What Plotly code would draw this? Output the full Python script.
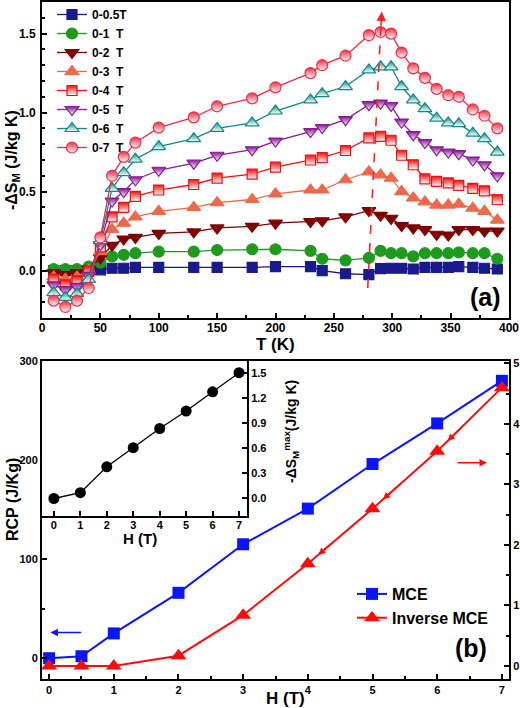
import plotly.graph_objects as go

# ---------------- data : panel (a) ----------------
T = [10, 20, 30, 40, 50, 60, 70, 80, 100, 130, 150, 180, 200, 230, 240, 260,
     280, 290, 299, 308, 318, 328, 338, 348, 357, 369, 379, 390]
dS_05 = [0.0, 0.0, 0.0, 0.005, 0.005, 0.015, 0.015, 0.02, 0.02, 0.02, 0.02, 0.02, 0.025, 0.025, 0.0, -0.02,
         -0.025, 0.012, 0.015, 0.015, 0.01, 0.02, 0.02, 0.02, 0.025, 0.02, 0.015, 0.01]
dS_1 = [0.01, 0.01, 0.01, 0.025, 0.05, 0.09, 0.10, 0.11, 0.12, 0.12, 0.13, 0.135, 0.135, 0.125, 0.075, 0.065,
        0.08, 0.125, 0.11, 0.11, 0.09, 0.11, 0.11, 0.11, 0.115, 0.11, 0.11, 0.075]
dS_2 = [-0.015, -0.025, -0.015, 0.01, 0.08, 0.16, 0.20, 0.21, 0.235, 0.245, 0.27, 0.28, 0.30, 0.31, 0.315, 0.34,
        0.38, 0.35, 0.33, 0.285, 0.27, 0.26, 0.23, 0.225, 0.26, 0.26, 0.25, 0.25]
dS_3 = [-0.04, -0.055, -0.04, 0.0, 0.12, 0.26, 0.30, 0.34, 0.375, 0.40, 0.43, 0.45, 0.485, 0.51, 0.51, 0.575,
        0.625, 0.605, 0.585, 0.50, 0.46, 0.435, 0.415, 0.415, 0.42, 0.395, 0.375, 0.32]
dS_4 = [-0.055, -0.09, -0.065, -0.005, 0.15, 0.34, 0.40, 0.47, 0.51, 0.545, 0.585, 0.61, 0.655, 0.70, 0.715, 0.76,
        0.84, 0.85, 0.825, 0.73, 0.67, 0.58, 0.565, 0.555, 0.54, 0.52, 0.505, 0.45]
dS_5 = [-0.09, -0.12, -0.10, -0.03, 0.165, 0.44, 0.50, 0.575, 0.635, 0.68, 0.73, 0.765, 0.82, 0.88, 0.905, 0.955,
        1.05, 1.06, 1.045, 0.94, 0.86, 0.81, 0.765, 0.75, 0.74, 0.70, 0.67, 0.60]
dS_6 = [-0.14, -0.17, -0.145, -0.055, 0.19, 0.52, 0.62, 0.705, 0.785, 0.835, 0.90, 0.935, 1.01, 1.08, 1.12, 1.165,
        1.27, 1.29, 1.29, 1.165, 1.08, 1.025, 0.965, 0.935, 0.93, 0.87, 0.835, 0.75]
dS_7 = [-0.19, -0.23, -0.19, -0.11, 0.21, 0.60, 0.72, 0.81, 0.905, 0.97, 1.04, 1.09, 1.16, 1.25, 1.30, 1.36,
        1.49, 1.51, 1.50, 1.38, 1.28, 1.22, 1.15, 1.11, 1.10, 1.02, 0.98, 0.90]
series_names = ["0-0.5T", "0-1  T", "0-2  T", "0-3  T", "0-4  T", "0-5  T", "0-6  T", "0-7  T"]

# ---------------- data : panel (b) ----------------
H = [0, 0.5, 1, 2, 3, 4, 5, 6, 7]
RCP = [0, 2, 25, 66, 115, 151, 196, 237, 280]
inv_MCE = [0, 0, 0, 0.17, 0.84, 1.69, 2.6, 3.55, 4.6]
H_inset = [0, 1, 2, 3, 4, 5, 6, 7]
dSmax = [-0.01, 0.06, 0.37, 0.6, 0.83, 1.04, 1.27, 1.5]

W, HGT = 520, 708
FONT = "Arial, Liberation Sans, sans-serif"

def px_x(p):
    return p / W

def px_y(p):
    return 1 - p / HGT

fig = go.Figure()

styles = [
    ("#1a1a8c", "square", 10, False),
    ("#1e9a1e", "circle", 11, False),
    ("#800000", "triangle-down", 12, False),
    ("#ec6a4c", "triangle-up", 12, False),
    ("#f01010", "square", 10, True),
    ("#8a1a96", "triangle-down", 12, True),
    ("#0f8a82", "triangle-up", 12, True),
    ("#ee2c45", "circle", 11, True),
]
data_a = [dS_05, dS_1, dS_2, dS_3, dS_4, dS_5, dS_6, dS_7]
for name, ys, (col, sym, sz, half) in zip(series_names, data_a, styles):
    marker = dict(symbol=sym, size=sz, color=col, line=dict(color=col, width=1.2))
    if half:
        marker["gradient"] = dict(type="vertical", color="white")
    fig.add_trace(go.Scatter(x=T, y=ys, name=name, mode="lines+markers",
                             line=dict(color=col, width=1.3), marker=marker,
                             xaxis="x", yaxis="y", legend="legend"))

# panel (b)
fig.add_trace(go.Scatter(x=H, y=RCP, name="MCE", mode="lines+markers",
                         line=dict(color="#0a14ff", width=2),
                         marker=dict(symbol="square", size=12, color="#0a14ff"),
                         xaxis="x2", yaxis="y2", legend="legend2"))
fig.add_trace(go.Scatter(x=H, y=inv_MCE, name="Inverse MCE", mode="lines+markers",
                         line=dict(color="#ff0a0a", width=2),
                         marker=dict(symbol="triangle-up", size=14, color="#ff0a0a"),
                         xaxis="x2", yaxis="y3", legend="legend2"))
# inset
fig.add_trace(go.Scatter(x=H_inset, y=dSmax, mode="lines+markers", showlegend=False,
                         line=dict(color="black", width=1.3),
                         marker=dict(symbol="circle", size=11, color="black"),
                         xaxis="x3", yaxis="y4"))

tickfont = dict(family=FONT, size=12, color="black", weight="bold")
smallfont = dict(family=FONT, size=11, color="black", weight="bold")
axcommon = dict(showline=True, linecolor="black", linewidth=2, ticks="inside",
                tickcolor="black", tickwidth=1.5, ticklen=5, showgrid=False,
                zeroline=False, automargin=False)

fig.update_layout(
    width=W, height=HGT, margin=dict(l=0, r=0, t=0, b=0, autoexpand=False),
    paper_bgcolor="white", plot_bgcolor="white",
    font=dict(family=FONT, color="black"),
    xaxis=dict(domain=[px_x(42), px_x(509)], range=[0, 400], anchor="y", mirror=True,
               tickvals=[0, 50, 100, 150, 200, 250, 300, 350, 400], tickfont=tickfont,
               ticklabelstandoff=-2,
               minor=dict(dtick=25, ticks="inside", ticklen=3, tickcolor="black"),
               **axcommon),
    yaxis=dict(domain=[px_y(318), px_y(2)], range=[-0.3, 1.7], anchor="x", mirror=True,
               tickvals=[0, 0.5, 1.0, 1.5], ticktext=["0.0", "0.5", "1.0", "1.5"],
               tickfont=tickfont, ticklabelstandoff=2,
               minor=dict(dtick=0.1, ticks="inside", ticklen=3, tickcolor="black"),
               **axcommon),
    xaxis2=dict(domain=[px_x(42), px_x(509)], range=[-0.11, 7.11], anchor="y2", mirror=True,
                tickvals=[0, 1, 2, 3, 4, 5, 6, 7], tickfont=smallfont,
                minor=dict(dtick=0.5, ticks="inside", ticklen=3, tickcolor="black"),
                **axcommon),
    yaxis2=dict(domain=[px_y(679), px_y(361)], range=[-21, 300], anchor="x2",
                tickvals=[0, 100, 200, 300], tickfont=smallfont,
                minor=dict(dtick=50, ticks="inside", ticklen=3, tickcolor="black"),
                **axcommon),
    yaxis3=dict(overlaying="y2", side="right", range=[-0.215, 5.04], anchor="x2",
                tickvals=[0, 1, 2, 3, 4, 5], tickfont=smallfont,
                minor=dict(dtick=0.5, ticks="inside", ticklen=3, tickcolor="black"),
                **axcommon),
    xaxis3=dict(domain=[px_x(42), px_x(247)], range=[-0.45, 7.3], anchor="y4",
                tickvals=[0, 1, 2, 3, 4, 5, 6, 7], tickfont=smallfont,
                ticklabelstandoff=-2, **axcommon),
    yaxis4=dict(domain=[px_y(516), px_y(361)], range=[-0.22, 1.64], anchor="x3", side="right",
                tickvals=[0, 0.3, 0.6, 0.9, 1.2, 1.5],
                ticktext=["0.0", "0.3", "0.6", "0.9", "1.2", "1.5"],
                tickfont=smallfont, **axcommon),
    legend=dict(x=px_x(52), y=px_y(0), xanchor="left", yanchor="top",
                bgcolor="rgba(0,0,0,0)", tracegroupgap=0,
                font=dict(family=FONT, size=12, color="black", weight="bold")),
    legend2=dict(x=px_x(352), y=px_y(577), xanchor="left", yanchor="top",
                 bgcolor="rgba(0,0,0,0)",
                 font=dict(family=FONT, size=16, color="black", weight="bold")),
)

# dashed peak guide with arrow head in panel (a)
fig.add_shape(type="line", xref="x", yref="y", x0=279, y0=-0.11, x1=290.5, y1=1.58,
              line=dict(color="#ff2020", width=1.6, dash="dash"))
fig.add_annotation(xref="x", yref="y", axref="x", ayref="y", x=291, y=1.64, ax=290.3, ay=1.54,
                   showarrow=True, arrowhead=2, arrowsize=1.2, arrowwidth=1.6,
                   arrowcolor="#ff2020", text="")

# arrows in panel (b)
fig.add_annotation(xref="x2", yref="y2", axref="x2", ayref="y2", x=0.02, y=26, ax=0.52, ay=26,
                   showarrow=True, arrowhead=2, arrowsize=1, arrowwidth=1.5,
                   arrowcolor="#0a14ff", text="")
fig.add_annotation(xref="x2", yref="y3", axref="x2", ayref="y3", x=6.77, y=3.36, ax=6.29, ay=3.36,
                   showarrow=True, arrowhead=2, arrowsize=1, arrowwidth=1.5,
                   arrowcolor="#ff0a0a", text="")
# direction arrowheads along the inverse-MCE curve (pointing toward lower field)
for k in (5, 6, 7):
    x0, y0 = H[k], inv_MCE[k]
    x1, y1 = H[k + 1], inv_MCE[k + 1]
    fig.add_annotation(xref="x2", yref="y3", axref="x2", ayref="y3",
                       x=x0 + 0.16 * (x1 - x0), y=y0 + 0.16 * (y1 - y0),
                       ax=x0 + 0.4 * (x1 - x0), ay=y0 + 0.4 * (y1 - y0),
                       showarrow=True, arrowhead=2, arrowsize=0.9, arrowwidth=1.6,
                       arrowcolor="#ff0a0a", text="")

bold = lambda s: dict(family=FONT, size=s, color="black", weight="bold")

def label(x, y, text, size, angle=0):
    fig.add_annotation(xref="paper", yref="paper", x=px_x(x), y=px_y(y), text=text,
                       xanchor="center", yanchor="middle", textangle=angle,
                       showarrow=False, font=bold(size))

# axis titles / labels
label(275, 344, "T (K)", 17)
label(12, 160, "-ΔS<sub>M</sub> (J/kg K)", 16, -90)
label(485, 297, "(a)", 25)
label(12, 500, "RCP (J/Kg)", 16, -90)
label(285, 698, "H (T)", 17)
label(471, 648, "(b)", 25)
label(140, 538, "H (T)", 15)
label(291, 432, "-ΔS<sub>M</sub><sup>max</sup>(J/kg K)", 14, -90)

fig.write_html("out.html")
